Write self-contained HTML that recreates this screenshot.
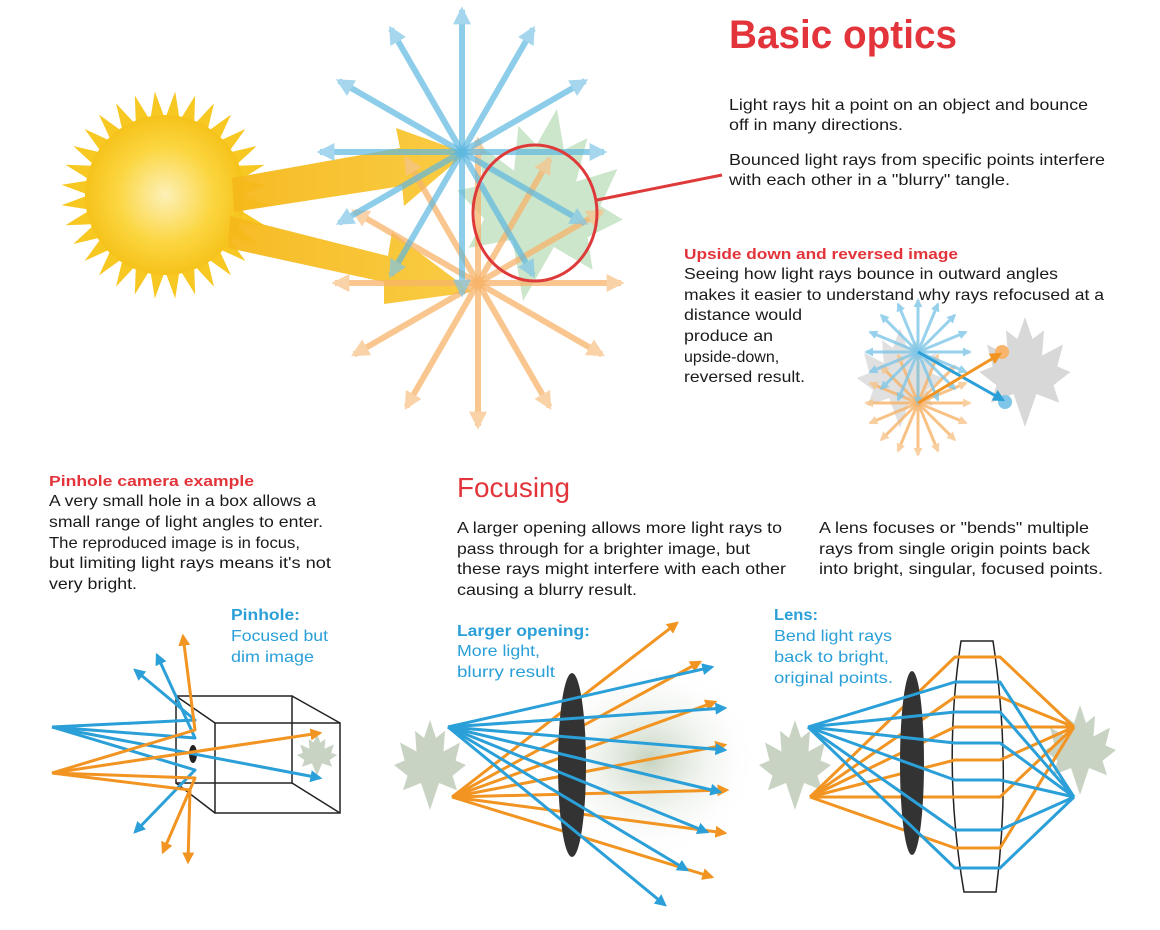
<!DOCTYPE html>
<html><head><meta charset="utf-8"><style>
html,body{margin:0;padding:0;background:#fff;}
svg{display:block;}
text{font-family:"Liberation Sans",sans-serif;}
.b{font-size:16px;fill:#1a1a1a;}
.rt{fill:#e2343a;font-weight:bold;font-size:15px;}
.bl{fill:#2a9fd8;font-size:16px;}
</style></head><body>
<svg id="s" width="1160" height="930" viewBox="0 0 1160 930" xmlns="http://www.w3.org/2000/svg">
<defs>
<radialGradient id="sun" cx="0.5" cy="0.5" r="0.5"><stop offset="0" stop-color="#fdf0b8"/><stop offset="0.6" stop-color="#fbd640"/><stop offset="1" stop-color="#f6c21a"/></radialGradient>
<linearGradient id="ya" x1="0" y1="0" x2="1" y2="0"><stop offset="0" stop-color="#f6b81a"/><stop offset="1" stop-color="#f9c93a"/></linearGradient>
<radialGradient id="glow" cx="0.5" cy="0.5" r="0.5"><stop offset="0" stop-color="#b8c8b0" stop-opacity="0.8"/><stop offset="1" stop-color="#fff" stop-opacity="0"/></radialGradient>
<path id="leaf" d="M0,-50 L8,-30 L20,-38 L18,-15 L40,-25 L34,-5 L48,0 L30,12 L36,28 L12,20 L4,40 L0,50 L-4,40 L-12,20 L-36,28 L-30,12 L-48,0 L-34,-5 L-40,-25 L-18,-15 L-20,-38 L-8,-30 Z"/>
<marker id="mb" viewBox="0 0 10 10" refX="8" refY="5" markerWidth="4" markerHeight="4" orient="auto"><path d="M0,0 L10,5 L0,10 Z" fill="#2a9fd8"/></marker>
<marker id="mo" viewBox="0 0 10 10" refX="8" refY="5" markerWidth="4" markerHeight="4" orient="auto"><path d="M0,0 L10,5 L0,10 Z" fill="#f29422"/></marker>
<marker id="mlb" viewBox="0 0 10 10" refX="8" refY="5" markerWidth="3" markerHeight="3" orient="auto"><path d="M0,0 L10,5 L0,10 Z" fill="#7fc6e8"/></marker>
<marker id="mlo" viewBox="0 0 10 10" refX="8" refY="5" markerWidth="3" markerHeight="3" orient="auto"><path d="M0,0 L10,5 L0,10 Z" fill="#f7c48a"/></marker>
</defs>
<g id="g"></g>

<text x="729" y="48" font-size="40" font-weight="bold" fill="#e2343a" textLength="228" lengthAdjust="spacingAndGlyphs">Basic optics</text>
<text class="b" x="729" y="110" textLength="359" lengthAdjust="spacingAndGlyphs">Light rays hit a point on an object and bounce</text>
<text class="b" x="729" y="130" textLength="174" lengthAdjust="spacingAndGlyphs">off in many directions.</text>
<text class="b" x="729" y="165" textLength="376" lengthAdjust="spacingAndGlyphs">Bounced light rays from specific points interfere</text>
<text class="b" x="729" y="185" textLength="281" lengthAdjust="spacingAndGlyphs">with each other in a "blurry" tangle.</text>

<text class="rt" x="684" y="259" textLength="274" lengthAdjust="spacingAndGlyphs">Upside down and reversed image</text>
<text class="b" x="684" y="279" textLength="374" lengthAdjust="spacingAndGlyphs">Seeing how light rays bounce in outward angles</text>
<text class="b" x="684" y="300" textLength="420" lengthAdjust="spacingAndGlyphs">makes it easier to understand why rays refocused at a</text>
<text class="b" x="684" y="320" textLength="118" lengthAdjust="spacingAndGlyphs">distance would</text>
<text class="b" x="684" y="341" textLength="89" lengthAdjust="spacingAndGlyphs">produce an</text>
<text class="b" x="684" y="362">upside-down,</text>
<text class="b" x="684" y="382" textLength="121" lengthAdjust="spacingAndGlyphs">reversed result.</text>

<text class="rt" x="49" y="486" textLength="205" lengthAdjust="spacingAndGlyphs">Pinhole camera example</text>
<text class="b" x="49" y="506" textLength="267" lengthAdjust="spacingAndGlyphs">A very small hole in a box allows a</text>
<text class="b" x="49" y="527" textLength="274" lengthAdjust="spacingAndGlyphs">small range of light angles to enter.</text>
<text class="b" x="49" y="548" textLength="251" lengthAdjust="spacingAndGlyphs">The reproduced image is in focus,</text>
<text class="b" x="49" y="568" textLength="282" lengthAdjust="spacingAndGlyphs">but limiting light rays means it's not</text>
<text class="b" x="49" y="589" textLength="88" lengthAdjust="spacingAndGlyphs">very bright.</text>

<text class="bl" x="231" y="620" font-weight="bold" textLength="69" lengthAdjust="spacingAndGlyphs">Pinhole:</text>
<text class="bl" x="231" y="641" textLength="97" lengthAdjust="spacingAndGlyphs">Focused but</text>
<text class="bl" x="231" y="662" textLength="83" lengthAdjust="spacingAndGlyphs">dim image</text>

<text x="457" y="497" font-size="28" fill="#e2343a" textLength="113" lengthAdjust="spacingAndGlyphs">Focusing</text>
<text class="b" x="457" y="533" textLength="325" lengthAdjust="spacingAndGlyphs">A larger opening allows more light rays to</text>
<text class="b" x="457" y="554" textLength="293" lengthAdjust="spacingAndGlyphs">pass through for a brighter image, but</text>
<text class="b" x="457" y="574" textLength="329" lengthAdjust="spacingAndGlyphs">these rays might interfere with each other</text>
<text class="b" x="457" y="595" textLength="180" lengthAdjust="spacingAndGlyphs">causing a blurry result.</text>
<text class="b" x="819" y="533" textLength="270" lengthAdjust="spacingAndGlyphs">A lens focuses or "bends" multiple</text>
<text class="b" x="819" y="554" textLength="271" lengthAdjust="spacingAndGlyphs">rays from single origin points back</text>
<text class="b" x="819" y="574" textLength="284" lengthAdjust="spacingAndGlyphs">into bright, singular, focused points.</text>

<text class="bl" x="457" y="636" font-weight="bold" textLength="133" lengthAdjust="spacingAndGlyphs">Larger opening:</text>
<text class="bl" x="457" y="656" textLength="83" lengthAdjust="spacingAndGlyphs">More light,</text>
<text class="bl" x="457" y="677" textLength="98" lengthAdjust="spacingAndGlyphs">blurry result</text>
<text class="bl" x="774" y="620" font-weight="bold" textLength="44" lengthAdjust="spacingAndGlyphs">Lens:</text>
<text class="bl" x="774" y="641" textLength="118" lengthAdjust="spacingAndGlyphs">Bend light rays</text>
<text class="bl" x="774" y="662" textLength="115" lengthAdjust="spacingAndGlyphs">back to bright,</text>
<text class="bl" x="774" y="683" textLength="119" lengthAdjust="spacingAndGlyphs">original points.</text>
</svg>
<script>
var NS="http://www.w3.org/2000/svg",G=document.getElementById('g');
function el(t,a,p){var e=document.createElementNS(NS,t);for(var k in a)e.setAttribute(k,a[k]);(p||G).appendChild(e);return e;}
function ln(x1,y1,x2,y2,c,w,m,o){var a={x1:x1,y1:y1,x2:x2,y2:y2,stroke:c,'stroke-width':w};if(m)a['marker-end']='url(#'+m+')';if(o)a.opacity=o;return el('line',a);}
function pl(pts,c,w,m){var a={points:pts,fill:'none',stroke:c,'stroke-width':w,'stroke-linejoin':'round'};if(m)a['marker-end']='url(#'+m+')';return el('polyline',a);}
el('use',{href:'#leaf',transform:'translate(540,205) rotate(10) scale(1.75,1.95)',fill:'#8cc78a',opacity:0.45});
var cx=165,cy=195,p=[];for(var i=0;i<64;i++){var a=i*Math.PI/32,r=i%2?104:76;p.push((cx+r*Math.cos(a)).toFixed(1)+','+(cy+r*Math.sin(a)).toFixed(1));}
el('polygon',{points:p.join(' '),fill:'#f7c722'});
el('circle',{cx:cx,cy:cy,r:80,fill:'url(#sun)'});
el('polygon',{points:'232,178 400,148 396,128 466,153 404,206 402,186 234,212',fill:'url(#ya)',opacity:0.95});
el('polygon',{points:'230,216 388,256 392,232 472,292 384,304 384,282 228,248',fill:'url(#ya)',opacity:0.95});
function star(x,y,r,c,w,m,o,n){n=n||12;for(var i=0;i<n;i++){var a=i*2*Math.PI/n;ln(x,y,(x+r*Math.sin(a)).toFixed(1),(y-r*Math.cos(a)).toFixed(1),c,w,m,o);}}
star(478,283,143,'#f7b46a',6,'mlo',0.75);
star(462,152,142,'#5fb8e0',6,'mlb',0.7);
el('ellipse',{cx:535,cy:213,rx:62,ry:68,fill:'none',stroke:'#df3a3a','stroke-width':3});
ln(597,200,722,175,'#df3a3a',3);
el('use',{href:'#leaf',transform:'translate(1025,372) scale(0.95,1.1)',fill:'#d8d8d8'});
el('use',{href:'#leaf',transform:'translate(900,378) scale(0.9,1.0)',fill:'#e0e0e0'});
star(918,403,52,'#f7b46a',3,'mlo',0.8,16);
star(918,352,52,'#7fc6e8',3,'mlb',0.8,16);
el('circle',{cx:1002,cy:352,r:7,fill:'#f7b46a'});el('circle',{cx:1005,cy:402,r:7,fill:'#7fc6e8'});
ln(918,352,1003,400,'#2a9fd8',3,'mb');ln(918,403,1000,354,'#f29422',3,'mo');
var B='#222';
el('rect',{x:176,y:696,width:116,height:87,fill:'none',stroke:B,'stroke-width':1.5});
el('rect',{x:215,y:723,width:125,height:90,fill:'none',stroke:B,'stroke-width':1.5});
ln(176,696,215,723,B,1.5);ln(292,696,340,723,B,1.5);ln(176,783,215,813,B,1.5);ln(292,783,340,813,B,1.5);
el('use',{href:'#leaf',transform:'translate(317,755) scale(0.42,0.42)',fill:'#c9d3c4'});
el('ellipse',{cx:193,cy:754,rx:4,ry:9,fill:'#222'});
pl('52,727 195,720 135,670','#2a9fd8',3,'mb');pl('52,727 195,738 157,655','#2a9fd8',3,'mb');
pl('52,727 195,770 135,832','#2a9fd8',3,'mb');ln(52,727,320,778,'#2a9fd8',3,'mb');
pl('52,773 195,730 183,636','#f29422',3,'mo');pl('52,773 195,778 163,852','#f29422',3,'mo');
pl('52,773 190,790 188,862','#f29422',3,'mo');ln(52,773,320,733,'#f29422',3,'mo');
el('ellipse',{cx:650,cy:760,rx:110,ry:100,fill:'url(#glow)'});
el('use',{href:'#leaf',transform:'translate(430,765) scale(0.75,0.9)',fill:'#c9d3c4'});
var be=[[712,667],[725,708],[725,750],[720,792],[707,832],[687,870],[665,905]];
var oe=[[677,623],[700,662],[715,702],[725,745],[727,790],[725,833],[712,877]];
oe.forEach(function(e){ln(452,797,e[0],e[1],'#f29422',3,'mo');});
el('ellipse',{cx:572,cy:765,rx:14,ry:92,fill:'#333'});
be.forEach(function(e){ln(448,727,e[0],e[1],'#2a9fd8',3,'mb');});
el('use',{href:'#leaf',transform:'translate(795,765) scale(0.75,0.9)',fill:'#c9d3c4'});
el('use',{href:'#leaf',transform:'translate(1080,750) scale(0.75,0.9)',fill:'#c9d3c4'});
el('path',{d:'M961,641 L993,641 Q1012,766 996,892 L964,892 Q942,766 961,641 Z',fill:'#fff',stroke:'#222','stroke-width':1.5});
[657,697,727,760,797,848].forEach(function(y){pl('810,797 955,'+y+' 1000,'+y+' 1074,727','#f29422',3);});
el('ellipse',{cx:912,cy:763,rx:12,ry:92,fill:'#333'});
[682,712,743,780,830,868].forEach(function(y){pl('808,727 955,'+y+' 1000,'+y+' 1074,797','#2a9fd8',3);});
</script>
</body></html>
